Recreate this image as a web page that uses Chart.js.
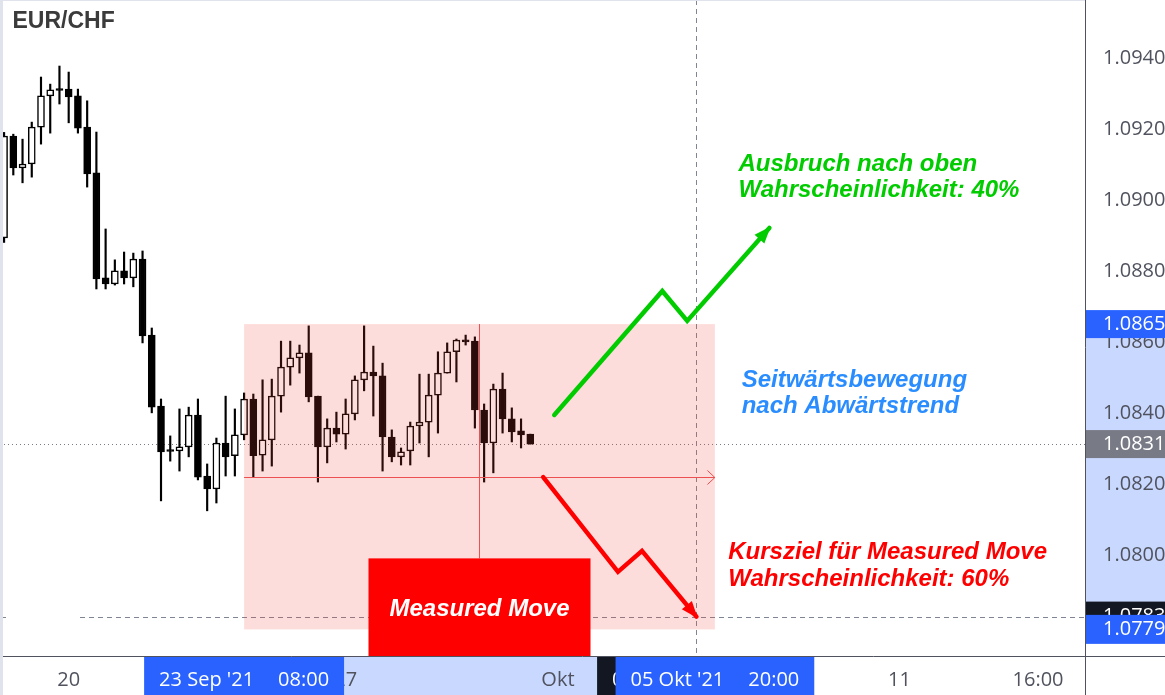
<!DOCTYPE html>
<html><head><meta charset="utf-8">
<script src="https://cdn.jsdelivr.net/npm/chart.js@4.4.1/dist/chart.umd.min.js"></script>
<style>html,body{margin:0;padding:0;background:#fff;overflow:hidden}canvas{display:block}</style>
</head><body>
<canvas id="c" width="1165" height="695" style="width:1165px;height:695px"></canvas>
<script>
// ---- data (EUR/CHF, 4h candles) ----
const firstIndex = -1;
const opens  = [1.08893,1.09180,1.09090,1.09101,1.09205,1.09293,1.09312,1.09312,1.09293,1.09205,1.09076,1.08780,1.08763,1.08800,1.08780,1.08833,1.08619,1.08419,1.08293,1.08293,1.08304,1.08394,1.08222,1.08186,1.08315,1.08279,1.08338,1.08439,1.08281,1.08324,1.08447,1.08529,1.08555,1.08569,1.08447,1.08304,1.08357,1.08340,1.08397,1.08493,1.08515,1.08504,1.08332,1.08276,1.08293,1.08363,1.08374,1.08450,1.08512,1.08572,1.08605,1.08602,1.08408,1.08315,1.08467,1.08383,1.08349,1.08340];
const highs  = [1.09190,1.09185,1.09171,1.09219,1.09346,1.09326,1.09377,1.09360,1.09312,1.09279,1.09191,1.08918,1.08831,1.08853,1.08850,1.08856,1.08639,1.08439,1.08335,1.08411,1.08416,1.08439,1.08256,1.08329,1.08447,1.08411,1.08456,1.08453,1.08493,1.08495,1.08602,1.08602,1.08591,1.08645,1.08447,1.08383,1.08402,1.08439,1.08504,1.08645,1.08588,1.08540,1.08352,1.08301,1.08374,1.08509,1.08509,1.08572,1.08597,1.08608,1.08619,1.08614,1.08425,1.08481,1.08512,1.08414,1.08383,1.08340];
const lows   = [1.08880,1.09070,1.09048,1.09064,1.09157,1.09188,1.09270,1.09217,1.09188,1.09036,1.08749,1.08749,1.08760,1.08763,1.08755,1.08597,1.08400,1.08152,1.08264,1.08236,1.08276,1.08211,1.08124,1.08146,1.08222,1.08222,1.08324,1.08219,1.08236,1.08250,1.08402,1.08478,1.08512,1.08431,1.08205,1.08259,1.08318,1.08298,1.08380,1.08462,1.08391,1.08236,1.08262,1.08253,1.08253,1.08315,1.08276,1.08343,1.08512,1.08487,1.08591,1.08357,1.08205,1.08231,1.08343,1.08318,1.08301,1.08312];
const closes = [1.09180,1.09090,1.09101,1.09205,1.09293,1.09310,1.09308,1.09290,1.09202,1.09073,1.08777,1.08763,1.08800,1.08780,1.08833,1.08617,1.08416,1.08290,1.08291,1.08304,1.08394,1.08219,1.08186,1.08315,1.08276,1.08338,1.08439,1.08279,1.08324,1.08447,1.08529,1.08555,1.08569,1.08445,1.08304,1.08357,1.08340,1.08397,1.08493,1.08515,1.08504,1.08332,1.08276,1.08290,1.08363,1.08374,1.08450,1.08512,1.08572,1.08605,1.08600,1.08408,1.08315,1.08467,1.08383,1.08346,1.08338,1.08312];

const yTicks = [1.0800,1.0820,1.0840,1.0860,1.0880,1.0900,1.0920,1.0940];
const xTickValues = [6,36,59,96,111];
const xTickLabels = ['20','27','Okt','11','16:00'];

// drawn scenario paths (candle index, price)
const upPathX   = [58.6,70.3,73.0,81.9];
const upPathY   = [1.08394,1.08743,1.08659,1.08921];
const downPathX = [57.4,65.5,68.1,74.0];
const downPathY = [1.08219,1.07952,1.08011,1.07826];

// date & price range tool
const rangeX = [25,76];
const rangeY = [1.0865,1.0779];
const rangeDates = [["23 Sep '21","08:00"],["05 Okt '21","20:00"]];
// crosshair
const crossX = 74, crossY = 1.07826;
const crossDate = ["05 Okt '21","12:00"];
const crossPrice = "1.0783";
// ---- view / annotation config ----
const view = {xMin:-1.441, xMax:116.09, yMin:1.07715, yMax:1.09563};
const notes = [
  {lines:['Ausbruch nach oben','Wahrscheinlichkeit: 40%'], x:78.55, y:1.09082, color:'#00cc00'},
  {lines:['Seitwärtsbewegung','nach Abwärtstrend'], x:78.9, y:1.08474, color:'#2a8dff'},
  {lines:['Kursziel für Measured Move','Wahrscheinlichkeit: 60%'], x:77.45, y:1.07988, color:'#ff0000'}
];
const measuredTop = 1.0799;

const AXIS_FONT = '20px "Open Sans"';
const NOTE_FONT = 'italic bold 24px "Liberation Sans"';

const candleX = opens.map((_, i) => firstIndex + i);
const bodyData = opens.map((o, i) => ({x: candleX[i], y: [o, closes[i]]}));
const wickData = opens.map((o, i) => ({x: candleX[i], y: [lows[i], highs[i]]}));
const bodyColors = opens.map((o, i) => closes[i] >= o ? '#ffffff' : '#000000');
const upData = upPathX.map((x, i) => ({x, y: upPathY[i]}));
const downData = downPathX.map((x, i) => ({x, y: downPathY[i]}));

function arrowHead(ctx, X, Y, xs, ys, color) {
  const n = xs.length;
  const px = X.getPixelForValue(xs[n-1]), py = Y.getPixelForValue(ys[n-1]);
  const qx = X.getPixelForValue(xs[n-2]), qy = Y.getPixelForValue(ys[n-2]);
  const a = Math.atan2(py - qy, px - qx);
  const L = 15, W = 6.5;
  const tx = px + Math.cos(a) * 2, ty = py + Math.sin(a) * 2;
  const bx = px - Math.cos(a) * L, by = py - Math.sin(a) * L;
  ctx.save();
  ctx.fillStyle = color;
  ctx.beginPath();
  ctx.moveTo(tx, ty);
  ctx.lineTo(bx + Math.sin(a) * W, by - Math.cos(a) * W);
  ctx.lineTo(bx - Math.sin(a) * W, by + Math.cos(a) * W);
  ctx.closePath();
  ctx.fill();
  ctx.restore();
}

function axisDateBox(ctx, cx, top, h, parts, bg) {
  ctx.font = AXIS_FONT;
  const w1 = ctx.measureText(parts[0]).width, w2 = ctx.measureText(parts[1]).width;
  const w = w1 + w2 + 24 + 30;
  const left = cx - w / 2;
  ctx.fillStyle = bg;
  ctx.fillRect(left, top, w, h);
  ctx.fillStyle = '#ffffff';
  ctx.textBaseline = 'middle';
  ctx.textAlign = 'left';
  ctx.fillText(parts[0], left + 15, top + h / 2 + 4);
  ctx.textAlign = 'right';
  ctx.fillText(parts[1], left + w - 15, top + h / 2 + 4);
}

function priceBox(ctx, chart, value, text, bg, h) {
  const ca = chart.chartArea, Y = chart.scales.y;
  const y = Y.getPixelForValue(value);
  ctx.fillStyle = bg;
  ctx.fillRect(ca.right + 1, y - h / 2, chart.width - ca.right, h);
  ctx.fillStyle = '#ffffff';
  ctx.font = AXIS_FONT;
  ctx.textAlign = 'left';
  ctx.textBaseline = 'middle';
  ctx.fillText(text, ca.right + 18, y);
}

const overlay = {
  id: 'overlay',
  beforeDraw(chart) {
    const {ctx, chartArea: ca, scales: {x: X, y: Y}} = chart;
    ctx.save();
    ctx.fillStyle = '#ffffff';
    ctx.fillRect(0, 0, chart.width, chart.height);
    ctx.fillStyle = 'rgba(41,98,255,0.25)';
    const t = Y.getPixelForValue(rangeY[0]), b = Y.getPixelForValue(rangeY[1]);
    ctx.fillRect(ca.right, t, chart.width - ca.right, b - t);
    const l = X.getPixelForValue(rangeX[0]), r = X.getPixelForValue(rangeX[1]);
    ctx.fillRect(l, ca.bottom, r - l, chart.height - ca.bottom);
    ctx.restore();
  },
  beforeDatasetsDraw(chart) {
    const {ctx, chartArea: ca, scales: {x: X, y: Y}} = chart;
    ctx.save();
    const ly = Math.round(Y.getPixelForValue(closes[closes.length - 1])) + 0.5;
    ctx.strokeStyle = '#787b86';
    ctx.lineWidth = 1;
    ctx.setLineDash([1, 3]);
    ctx.beginPath(); ctx.moveTo(ca.left, ly); ctx.lineTo(ca.right, ly); ctx.stroke();
    ctx.setLineDash([5, 4]);
    ctx.strokeStyle = '#7f8592';
    const cx = Math.round(X.getPixelForValue(crossX)) + 0.5;
    const cy = Math.round(Y.getPixelForValue(crossY)) + 0.5;
    ctx.beginPath(); ctx.moveTo(cx, ca.top); ctx.lineTo(cx, ca.bottom); ctx.stroke();
    ctx.beginPath(); ctx.moveTo(80, cy); ctx.lineTo(ca.right, cy); ctx.stroke();
    ctx.beginPath(); ctx.moveTo(3, cy); ctx.lineTo(6, cy); ctx.stroke();
    ctx.restore();
  },
  afterDatasetDraw(chart, args) {
    if (args.index !== 2) return;
    const {ctx, chartArea: ca, scales: {x: X, y: Y}} = chart;
    const l = X.getPixelForValue(rangeX[0]), r = X.getPixelForValue(rangeX[1]);
    const t = Y.getPixelForValue(rangeY[0]), b = Y.getPixelForValue(rangeY[1]);
    const mx = X.getPixelForValue((rangeX[0] + rangeX[1]) / 2);
    const my = Math.round(Y.getPixelForValue((rangeY[0] + rangeY[1]) / 2)) + 0.5;
    ctx.save();
    ctx.beginPath(); ctx.rect(ca.left, ca.top, ca.right - ca.left, ca.bottom - ca.top); ctx.clip();
    ctx.fillStyle = 'rgba(244,67,54,0.18)';
    ctx.fillRect(l, t, r - l, b - t);
    const boxTop = Y.getPixelForValue(measuredTop);
    ctx.strokeStyle = '#ec5050';
    ctx.lineWidth = 1;
    ctx.beginPath(); ctx.moveTo(l, my); ctx.lineTo(r, my); ctx.stroke();
    ctx.beginPath(); ctx.moveTo(r - 7.5, my - 7); ctx.lineTo(r, my); ctx.lineTo(r - 7.5, my + 7); ctx.stroke();
    const vx = Math.round(mx) + 0.5;
    ctx.beginPath(); ctx.moveTo(vx, t); ctx.lineTo(vx, boxTop); ctx.stroke();
    ctx.fillStyle = '#ff0000';
    ctx.fillRect(mx - 111, boxTop, 222, ca.bottom - boxTop);
    ctx.fillStyle = '#ffffff';
    ctx.font = NOTE_FONT;
    ctx.textAlign = 'center';
    ctx.textBaseline = 'alphabetic';
    ctx.fillText('Measured Move', mx, (boxTop + ca.bottom) / 2 + 8.5);
    ctx.restore();
  },
  afterDatasetsDraw(chart) {
    const {ctx, scales: {x: X, y: Y}} = chart;
    arrowHead(ctx, X, Y, upPathX, upPathY, '#00cc00');
    arrowHead(ctx, X, Y, downPathX, downPathY, '#ff0000');
    ctx.save();
    ctx.font = NOTE_FONT;
    ctx.textAlign = 'left';
    ctx.textBaseline = 'alphabetic';
    notes.forEach(n => {
      ctx.fillStyle = n.color;
      const x = X.getPixelForValue(n.x), y = Y.getPixelForValue(n.y);
      n.lines.forEach((s, i) => ctx.fillText(s, x, y + i * 26.7));
    });
    ctx.restore();
  },
  afterDraw(chart) {
    const {ctx, chartArea: ca, scales: {x: X}} = chart;
    ctx.save();
    ctx.strokeStyle = '#50535e';
    ctx.lineWidth = 1;
    ctx.beginPath(); ctx.moveTo(ca.right + 0.5, 0); ctx.lineTo(ca.right + 0.5, chart.height); ctx.stroke();
    ctx.beginPath(); ctx.moveTo(0, ca.bottom + 0.5); ctx.lineTo(chart.width, ca.bottom + 0.5); ctx.stroke();
    priceBox(ctx, chart, closes[closes.length - 1], closes[closes.length - 1].toFixed(4), '#787b86', 28);
    priceBox(ctx, chart, crossY, crossPrice, '#131722', 30);
    priceBox(ctx, chart, rangeY[0], rangeY[0].toFixed(4), '#2962ff', 28);
    priceBox(ctx, chart, rangeY[1], rangeY[1].toFixed(4), '#2962ff', 29);
    const top = ca.bottom + 1, h = chart.height - top;
    axisDateBox(ctx, X.getPixelForValue(crossX), top, h, crossDate, '#131722');
    axisDateBox(ctx, X.getPixelForValue(rangeX[0]), top, h, rangeDates[0], '#2962ff');
    axisDateBox(ctx, X.getPixelForValue(rangeX[1]), top, h, rangeDates[1], '#2962ff');
    ctx.fillStyle = '#e0e3eb';
    ctx.fillRect(0, 0, 3, chart.height);
    ctx.fillRect(0, 0, ca.right, 1);
    ctx.fillStyle = '#3b3b3b';
    ctx.font = 'bold 23px "Liberation Sans"';
    ctx.textAlign = 'left';
    ctx.textBaseline = 'alphabetic';
    ctx.fillText('EUR/CHF', 12.5, 27.5);
    ctx.restore();
  }
};

function build() {
  new Chart(document.getElementById('c').getContext('2d'), {
    type: 'bar',
    data: {datasets: [
      {type: 'line', data: upData, borderColor: '#00cc00', borderWidth: 4.5, pointRadius: 0, fill: false, tension: 0, borderJoinStyle: 'miter', borderCapStyle: 'round', order: 0},
      {type: 'line', data: downData, borderColor: '#ff0000', borderWidth: 4.5, pointRadius: 0, fill: false, tension: 0, borderJoinStyle: 'miter', borderCapStyle: 'round', order: 0},
      {type: 'bar', data: bodyData, backgroundColor: bodyColors, borderColor: '#000000', borderWidth: 1.5, borderSkipped: false, barThickness: 7, minBarLength: 2, grouped: false, order: 1},
      {type: 'bar', data: wickData, backgroundColor: '#000000', borderWidth: 0, barThickness: 1.5, grouped: false, order: 2}
    ]},
    options: {
      responsive: false, animation: false, events: [],
      layout: {padding: 0},
      plugins: {legend: {display: false}, tooltip: {enabled: false}},
      scales: {
        x: {type: 'linear', min: view.xMin, max: view.xMax, offset: false,
          grid: {display: false, drawTicks: false}, border: {display: false},
          afterBuildTicks: s => { s.ticks = xTickValues.map(v => ({value: v})); },
          ticks: {autoSkip: false, maxRotation: 0, minRotation: 0, padding: 12, color: '#50535e',
            font: {family: 'Open Sans', size: 20},
            callback: v => { const i = xTickValues.indexOf(v); return i >= 0 ? xTickLabels[i] : ''; }},
          afterFit: s => { s.height = 39; s.paddingLeft = 0; s.paddingRight = 0; }},
        y: {type: 'linear', position: 'right', min: view.yMin, max: view.yMax,
          grid: {display: false, drawTicks: false}, border: {display: false},
          afterBuildTicks: s => { s.ticks = yTicks.map(v => ({value: v})); },
          ticks: {autoSkip: false, padding: 18, color: '#50535e', font: {family: 'Open Sans', size: 20},
            callback: v => Number(v).toFixed(4)},
          afterFit: s => { s.width = 80; s.paddingTop = 0; s.paddingBottom = 0; }}
      }
    },
    plugins: [overlay]
  });
}
Promise.all([
  document.fonts.load('20px "Open Sans"'),
  document.fonts.load('italic bold 24px "Liberation Sans"'),
  document.fonts.load('bold 23px "Liberation Sans"')
]).then(build, build);
</script>
</body></html>
